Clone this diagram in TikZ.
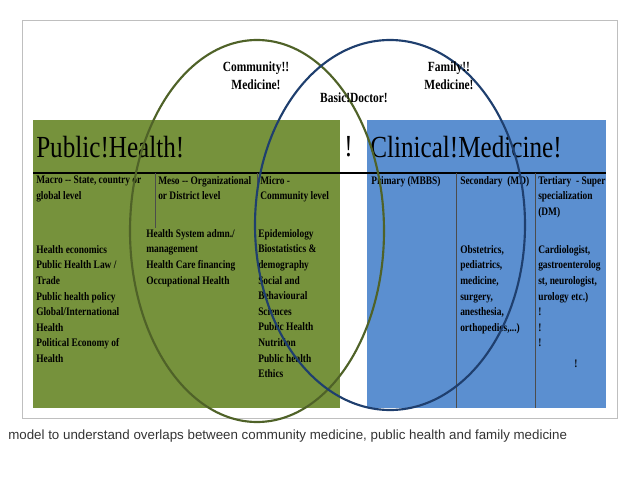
\documentclass[tikz,border=0pt]{standalone}
\usepackage{fontspec}
\setmainfont{Liberation Serif}
\newfontfamily\nar[FakeStretch=0.82]{Liberation Serif}
\newfontfamily\capfont{Liberation Sans}
\definecolor{pg}{HTML}{76923C}
\definecolor{cb}{HTML}{5B8FD0}
\definecolor{gc}{HTML}{4F6228}
\definecolor{bc}{HTML}{1F3F6E}
\begin{document}
\begin{tikzpicture}[x=0.75pt,y=-0.75pt,
  cell/.style={anchor=north west,inner sep=0pt,font=\nar\bfseries\fontsize{8.6}{11.7}\selectfont,align=left},
  ttl/.style={anchor=west,inner sep=0pt,font=\nar\fontsize{23}{24}\selectfont},
  lbl/.style={inner sep=0pt,font=\nar\bfseries\fontsize{10.5}{13.5}\selectfont,align=center}]
\useasboundingbox (0,0) rectangle (638,478);
\draw[gray!50] (22,20) rectangle (617,418);
\fill[pg] (33,120) rectangle (340,408);
\fill[cb] (367,120) rectangle (606,408);
\draw[black,line width=0.8pt] (33,173) -- (606,173);
\draw[black!70] (155,173) -- (155,228);
\draw[black!70] (257,173) -- (257,190);
\draw[black!70] (456,173) -- (456,408);
\draw[black!70] (535,173) -- (535,408);
\node[ttl] (ph) at (36,147) {Public!Health!};
\node[ttl] (ex) at (344,147) {!};
\node[ttl] (cm) at (370,147) {Clinical!Medicine!};
\node[cell] (c1) at (36,176) {Macro -- State, country or\\global level};
\node[cell] (c2) at (158,176) {Meso -- Organizational\\or District level};
\node[cell] (c3) at (260,176) {Micro -\\Community level};
\node[cell] (c4) at (36,245) {Health economics\\Public Health Law /\\Trade\\Public health policy\\Global/International\\Health\\Political Economy of\\Health};
\node[cell] (c5) at (146,229) {Health System admn./\\management\\Health Care financing\\Occupational Health};
\node[cell] (c6) at (258,229) {Epidemiology\\Biostatistics \&\\demography\\Social and\\Behavioural\\Sciences\\Public Health\\Nutrition\\Public health\\Ethics};
\node[cell] (b1) at (371,176) {Primary (MBBS)};
\node[cell] (b2) at (460,176) {Secondary \ (MD)};
\node[cell] (b3) at (538,176) {Tertiary \ - Super\\specialization\\(DM)};
\node[cell] (b4) at (460,245) {Obstetrics,\\pediatrics,\\medicine,\\surgery,\\anesthesia,\\orthopedics,...)};
\node[cell] (b5) at (538,245) {Cardiologist,\\gastroenterolog\\st, neurologist,\\urology etc.)\\!\\!\\!};
\node[cell] (b6) at (574,360) {!};
\draw[gc,line width=1.6pt] (257,231) ellipse [x radius=127,y radius=191];
\draw[bc,line width=1.6pt] (390,225) ellipse [x radius=135,y radius=185];
\node[lbl] (com) at (256,76) {Community!!\\Medicine!};
\node[lbl] (fam) at (449,76) {Family!!\\Medicine!};
\node[lbl] (bd) at (354,98) {Basic!Doctor!};
\begin{scope}
\clip (0,420) rectangle (638,441);
\node[anchor=north west,inner sep=0pt,font=\capfont\fontsize{10}{11}\selectfont,text=black!80] (cap) at (8,430) {model to understand overlaps between community medicine, public health and family medicine};
\end{scope}
\end{tikzpicture}
\end{document}
